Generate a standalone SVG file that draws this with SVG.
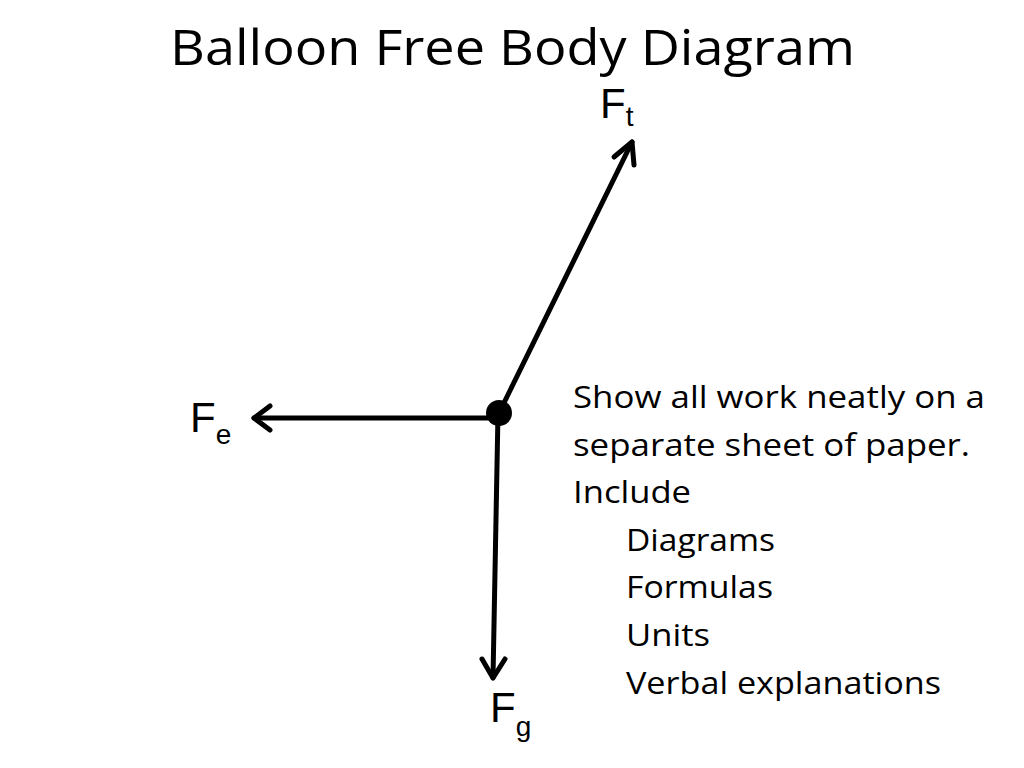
<svg xmlns="http://www.w3.org/2000/svg" width="1024" height="768" viewBox="0 0 1024 768">
<style>
.t{font-family:"Open Sans","Liberation Sans",sans-serif;fill:#000}
.f{font-family:"Liberation Sans",Arial,sans-serif;fill:#000}
.v{stroke:#000;stroke-width:5;fill:none;stroke-linecap:round;stroke-linejoin:round}
</style>
<rect width="1024" height="768" fill="#fff"/>
<text class="t" x="170" y="65" font-size="50" textLength="685" lengthAdjust="spacingAndGlyphs">Balloon Free Body Diagram</text>
<g id="connectors">
<line class="v" x1="499" y1="413" x2="632" y2="142"/>
<polyline class="v" points="614,157 632,142 634,165"/>
<line class="v" x1="499" y1="418" x2="254" y2="418"/>
<polyline class="v" points="270,406 254,418 270,430"/>
<line class="v" x1="498" y1="413" x2="493" y2="678"/>
<polyline class="v" points="482,659 493,678 505,659"/>
</g>
<g id="body"><circle cx="499" cy="413" r="13" fill="#000"/></g>
<g id="Ft"><text class="f" x="600" y="118" font-size="42">F<tspan font-size="28" dy="8">t</tspan></text></g>
<g id="Fe"><text class="f" x="190" y="432" font-size="42">F<tspan font-size="28" dy="12">e</tspan></text></g>
<g id="Fg"><text class="f" x="490" y="722" font-size="42">F<tspan font-size="28" dy="14">g</tspan></text></g>
<g id="note" class="t" font-size="31">
<text x="573" y="408" textLength="412" lengthAdjust="spacingAndGlyphs">Show all work neatly on a</text>
<text x="573" y="456" textLength="397" lengthAdjust="spacingAndGlyphs">separate sheet of paper.</text>
<text x="573" y="503" textLength="118" lengthAdjust="spacingAndGlyphs">Include</text>
<text x="626" y="551" textLength="149" lengthAdjust="spacingAndGlyphs">Diagrams</text>
<text x="626" y="598" textLength="147" lengthAdjust="spacingAndGlyphs">Formulas</text>
<text x="626" y="646" textLength="84" lengthAdjust="spacingAndGlyphs">Units</text>
<text x="626" y="694" textLength="315" lengthAdjust="spacingAndGlyphs">Verbal explanations</text>
</g>
</svg>
